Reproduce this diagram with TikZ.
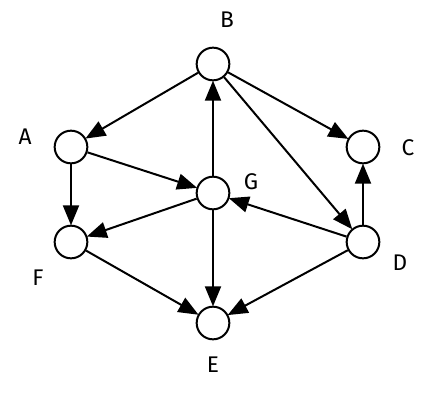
\documentclass[tikz,border=0pt]{standalone}
\usepackage{fontspec}
\setmainfont{Fira Sans}
\usetikzlibrary{arrows.meta}
\begin{document}
\begin{tikzpicture}[x=0.75pt,y=-0.75pt,
  vtx/.style={circle,draw,line width=1.5pt,minimum size=24.5pt,inner sep=0pt,fill=white},
  lbl/.style={font=\fontsize{17}{19}\selectfont},
  edge/.style={line width=1.5pt,-{Triangle[length=15pt,width=12pt]},shorten >=-0.5pt}]
\useasboundingbox (0,0) rectangle (439,400);
\node[vtx] (B) at (213,64) {};
\node[vtx] (A) at (71,147) {};
\node[vtx] (C) at (363,147) {};
\node[vtx] (G) at (213,193) {};
\node[vtx] (F) at (71,242) {};
\node[vtx] (D) at (363,242) {};
\node[vtx] (E) at (213,323) {};
\node[lbl] (lB) at (227,20) {B};
\node[lbl] (lA) at (25,137) {A};
\node[lbl] (lC) at (408,148) {C};
\node[lbl] (lG) at (251,182) {G};
\node[lbl] (lF) at (38,278) {F};
\node[lbl] (lD) at (400,263) {D};
\node[lbl] (lE) at (213,365) {E};
\draw[edge] (B) -- (A);
\draw[edge] (B) -- (C);
\draw[edge] (B) -- (D);
\draw[edge] (G) -- (B);
\draw[edge] (A) -- (G);
\draw[edge] (A) -- (F);
\draw[edge] (G) -- (F);
\draw[edge] (G) -- (E);
\draw[edge] (D) -- (G);
\draw[edge] (D) -- (C);
\draw[edge] (F) -- (E);
\draw[edge] (D) -- (E);
\end{tikzpicture}
\end{document}
